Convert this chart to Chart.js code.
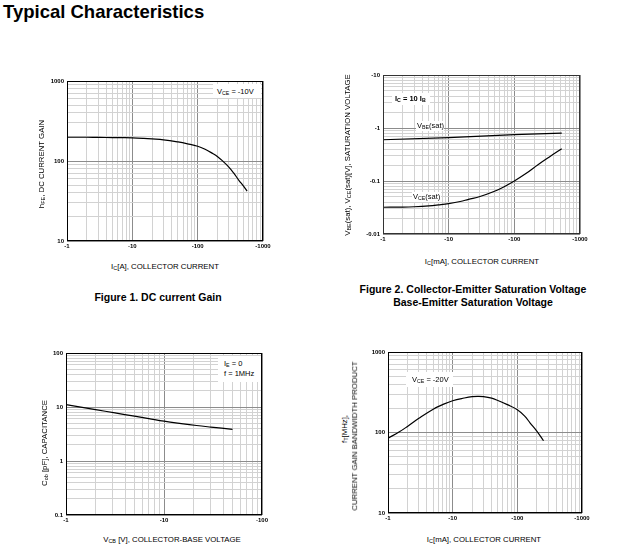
<!DOCTYPE html>
<html>
<head>
<meta charset="utf-8">
<script src="https://cdn.jsdelivr.net/npm/chart.js@4.4.1/dist/chart.umd.min.js"></script>
<style>
  body { margin: 0; background: #fff; }
  #page { position: relative; width: 617px; height: 546px; overflow: hidden; font-family: "Liberation Sans", Arial, sans-serif; }
  canvas { position: absolute; }
  .t { position: absolute; white-space: nowrap; font-size: 7.8px; color: #000; transform: translate(-50%, -50%); line-height: 1; }
  .rot { transform: translate(-50%, -50%) rotate(-90deg); }
  .cap { font-weight: bold; font-size: 10.5px; text-align: center; line-height: 13px; }
  .box { position: absolute; background: #fff; font-size: 7.5px; white-space: nowrap; line-height: 10px; }
  sub { font-size: 70%; vertical-align: -1px; line-height: 0; }
  h1 { position: absolute; left: 3px; top: 1px; margin: 0; font-size: 18.5px; font-weight: bold; }
</style>
</head>
<body>
<div id="page">
  <h1>Typical Characteristics</h1>

  <canvas id="c1" width="246" height="182" style="left:32px;top:73px"></canvas>
  <canvas id="c2" width="247" height="181" style="left:348px;top:67px"></canvas>
  <canvas id="c3" width="246" height="184" style="left:31px;top:345px"></canvas>
  <canvas id="c4" width="244" height="183" style="left:353px;top:344px"></canvas>

  <!-- figure 1 -->
  <div class="t rot" style="left:42px;top:164px">h<sub>FE</sub>, DC CURRENT GAIN</div>
  <div class="t" style="left:165px;top:267px">I<sub>C</sub>[A], COLLECTOR CURRENT</div>
  <div class="t cap" style="left:158px;top:297px">Figure 1. DC current Gain</div>
  <div class="box" style="left:213px;top:84px;width:48px;height:14px;"><span style="position:absolute;left:4px;top:3px">V<sub>CE</sub> = -10V</span></div>

  <!-- figure 2 -->
  <div class="t rot" style="left:348px;top:155px">V<sub>BE</sub>(sat), V<sub>CE</sub>(sat)[V], SATURATION VOLTAGE</div>
  <div class="t" style="left:482px;top:262px">I<sub>C</sub>[mA], COLLECTOR CURRENT</div>
  <div class="t cap" style="left:473px;top:296px">Figure 2. Collector-Emitter Saturation Voltage<br>Base-Emitter Saturation Voltage</div>
  <div class="box" style="left:392px;top:93px;width:38px;height:12px;"><span style="position:absolute;left:3px;top:1px;font-weight:bold">I<sub>C</sub> = 10 I<sub>B</sub></span></div>
  <div class="box" style="left:416px;top:121px;width:28px;height:10px;"><span style="position:absolute;left:1px;top:0px">V<sub>BE</sub>(sat)</span></div>
  <div class="box" style="left:412px;top:192px;width:29px;height:10px;"><span style="position:absolute;left:1px;top:0px">V<sub>CE</sub>(sat)</span></div>

  <!-- figure 3 -->
  <div class="t rot" style="left:45px;top:443px">C<sub>ob</sub> [pF], CAPACITANCE</div>
  <div class="t" style="left:172px;top:540px">V<sub>CB</sub> [V], COLLECTOR-BASE VOLTAGE</div>
  <div class="box" style="left:218px;top:356px;width:43px;height:26px;"><span style="position:absolute;left:6px;top:3px">I<sub>E</sub> = 0<br>f = 1MHz</span></div>

  <!-- figure 4 -->
  <div class="t rot" style="left:345px;top:429px">f<sub>T</sub>[MHz],</div>
  <div class="t rot" style="left:355px;top:436px">CURRENT GAIN BANDWIDTH PRODUCT</div>
  <div class="t" style="left:484px;top:540px">I<sub>C</sub>[mA], COLLECTOR CURRENT</div>
  <div class="box" style="left:406px;top:372px;width:47px;height:15px;"><span style="position:absolute;left:6px;top:3px">V<sub>CE</sub> = -20V</span></div>
</div>

<script>
// Fig 1: hFE vs Ic (values shown as negative on the axis)
const gainIc = [1, 2, 3, 5, 7, 10, 15, 20, 30, 50, 70, 100, 130, 170, 200, 243, 300, 355, 430, 500, 570];
const gainHfe = [198, 198, 197, 196.5, 196, 195, 192, 189, 184, 173, 164, 153, 140, 124, 114, 99.5, 84, 71, 57, 49, 42];

// Fig 2: saturation voltages vs Ic
const vbeIc = [1, 10, 100, 527];
const vbeSat = [0.60, 0.66, 0.75, 0.80];
const vceIc = [1, 2, 3, 5, 7, 10, 15, 20, 30, 50, 70, 100, 150, 232, 350, 527];
const vceSat = [0.032, 0.0322, 0.0327, 0.034, 0.0355, 0.0375, 0.041, 0.045, 0.051, 0.064, 0.078, 0.1, 0.138, 0.205, 0.29, 0.405];

// Fig 3: Cob vs Vcb
const cobVcb = [1, 2, 3.16, 5, 7, 10, 15, 21.5, 30, 50];
const cobPf = [11.1, 8.96, 7.78, 6.76, 6.1, 5.46, 4.93, 4.54, 4.25, 3.86];

// Fig 4: fT vs Ic
const ftIc = [1, 1.5, 2, 3, 5, 7, 10, 15, 20, 25, 30, 40, 50, 70, 100, 130, 158, 200, 254];
const ftMhz = [85, 102, 119, 150, 195, 222, 248, 268, 279, 281, 279, 267, 250, 222, 192, 160, 131, 104, 79];

// axis ranges
const range1 = { x: [1, 1000], y: [10, 1000] };
const range2 = { x: [1, 1000], y: [0.01, 10] };
const range3 = { x: [1, 100], y: [0.1, 100] };
const range4 = { x: [1, 1000], y: [10, 1000] };

function isMajor(v) {
  const l = Math.log10(v);
  return Math.abs(l - Math.round(l)) < 1e-6;
}

function logTicks(min, max) {
  const t = [];
  for (let e = Math.round(Math.log10(min)); e < Math.round(Math.log10(max)); e++) {
    for (let m = 1; m < 10; m++) t.push({ value: m * Math.pow(10, e), major: m === 1 });
  }
  t.push({ value: max, major: true });
  return t;
}

function fmt(v) {
  return v >= 1 ? String(Math.round(v)) : String(+v.toPrecision(1));
}

const pts = (xs, ys) => xs.map((x, i) => ({ x: x, y: ys[i] }));

const frame = {
  id: 'frame',
  afterDraw(c, args, opts) {
    const a = c.chartArea, g = c.ctx;
    g.save();
    g.strokeStyle = opts.color || '#000';
    g.lineWidth = 1;
    g.strokeRect(Math.round(a.left) + 0.5, Math.round(a.top) + 0.5,
      Math.round(a.right - a.left) - 1, Math.round(a.bottom - a.top) - 1);
    g.restore();
  }
};

function logAxis(r, neg, isX) {
  return {
    type: 'logarithmic',
    min: r[0],
    max: r[1],
    afterBuildTicks: s => { s.ticks = logTicks(r[0], r[1]); },
    afterFit: s => { if (isX) s.height = 14; else s.width = 35; },
    grid: {
      color: c => isMajor(c.tick.value) ? '#8c8c8c' : '#d2d2d2',
      lineWidth: 1,
      drawTicks: false
    },
    border: { display: false },
    ticks: {
      autoSkip: false,
      maxRotation: 0,
      padding: isX ? 2 : 3,
      color: '#000',
      font: { family: 'Liberation Sans', size: 6, weight: 'bold' },
      callback: v => isMajor(v) ? (neg ? '-' : '') + fmt(v) : ''
    }
  };
}

function makeChart(id, datasets, r, xNeg, yNeg, frameColor) {
  return new Chart(document.getElementById(id), {
    type: 'line',
    data: { datasets: datasets },
    options: {
      responsive: false,
      animation: false,
      layout: { padding: { top: 8, right: 15, left: 0, bottom: 0 } },
      scales: { x: logAxis(r.x, xNeg, true), y: logAxis(r.y, yNeg, false) },
      plugins: { legend: { display: false }, tooltip: { enabled: false }, frame: { color: frameColor } }
    },
    plugins: [frame]
  });
}

function curve(xs, ys, tension) {
  return {
    data: pts(xs, ys),
    borderColor: '#000',
    borderWidth: 1.2,
    pointRadius: 0,
    fill: false,
    tension: tension === undefined ? 0.4 : tension
  };
}

makeChart('c1', [curve(gainIc, gainHfe)], range1, true, false, '#000');
makeChart('c2', [curve(vbeIc, vbeSat, 0), curve(vceIc, vceSat)], range2, true, true, '#333');
makeChart('c3', [curve(cobVcb, cobPf)], range3, true, false, '#000');
makeChart('c4', [curve(ftIc, ftMhz)], range4, true, false, '#000');
</script>
</body>
</html>
